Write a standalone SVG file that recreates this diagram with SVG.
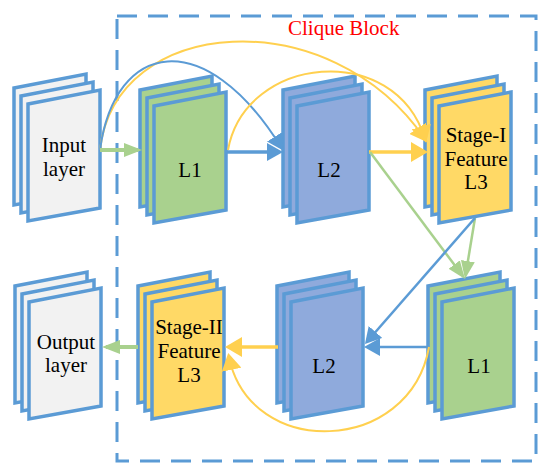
<svg xmlns="http://www.w3.org/2000/svg" xmlns:xlink="http://www.w3.org/1999/xlink" width="550" height="470" viewBox="0 0 550 470">
<style>
.sheet{stroke:#5b9bd5;stroke-width:3.5;stroke-linejoin:miter}
.gray{fill:#f2f2f2}.green{fill:#a9d18e}.blue{fill:#8faadc}.yellow{fill:#ffd966}
.lbl{font-family:"Liberation Serif","Times New Roman",serif;font-size:21px;fill:#000;text-anchor:middle}
.box{fill:none;stroke:#5b9bd5;stroke-width:3;stroke-dasharray:20 11}
.title{font-family:"Liberation Serif","Times New Roman",serif;font-size:21px;fill:#ff0000}
.cg{fill:none;stroke:#a9d18e}
.cb{fill:none;stroke:#5b9bd5}
.cy{fill:none;stroke:#ffd04f}
</style>
<defs>
<path id="sheet" d="M0,14 L72,0 L72,118 L0,131 Z"/>
<marker id="mg" markerUnits="userSpaceOnUse" markerWidth="18" markerHeight="14" refX="14" refY="7" orient="auto"><path d="M0,0 L18,7 L0,14 Z" fill="#a9d18e"/></marker>
<marker id="mb" markerUnits="userSpaceOnUse" markerWidth="16" markerHeight="18" refX="12" refY="9" orient="auto"><path d="M0,0 L16,9 L0,18 Z" fill="#5b9bd5"/></marker>
<marker id="my" markerUnits="userSpaceOnUse" markerWidth="17" markerHeight="20" refX="13" refY="10" orient="auto"><path d="M0,0 L17,10 L0,20 Z" fill="#ffd04f"/></marker>
</defs>

<g id="clique-block">
<rect class="box" x="117" y="16" width="419" height="445"/>
<text class="title" x="288" y="35">Clique Block</text>
</g>

<g id="input-layer">
<use href="#sheet" class="sheet gray" x="14" y="74"/>
<use href="#sheet" class="sheet gray" x="21" y="82"/>
<use href="#sheet" class="sheet gray" x="28" y="90"/>
<text class="lbl" x="64" y="152">Input</text>
<text class="lbl" x="64" y="176">layer</text>
</g>

<g id="l1-top">
<use href="#sheet" class="sheet green" x="140" y="76"/>
<use href="#sheet" class="sheet green" x="147" y="84"/>
<use href="#sheet" class="sheet green" x="154" y="92"/>
<text class="lbl" x="190" y="177">L1</text>
</g>

<g id="l2-top">
<use href="#sheet" class="sheet blue" x="283" y="76"/>
<use href="#sheet" class="sheet blue" x="290" y="84"/>
<use href="#sheet" class="sheet blue" x="297" y="92"/>
<text class="lbl" x="329" y="177">L2</text>
</g>

<g id="stage1-l3">
<use href="#sheet" class="sheet yellow" x="425" y="76"/>
<use href="#sheet" class="sheet yellow" x="432" y="84"/>
<use href="#sheet" class="sheet yellow" x="439" y="92"/>
<text class="lbl" x="476" y="142">Stage-I</text>
<text class="lbl" x="476" y="166">Feature</text>
<text class="lbl" x="476" y="189">L3</text>
</g>

<g id="output-layer">
<use href="#sheet" class="sheet gray" x="15" y="272"/>
<use href="#sheet" class="sheet gray" x="22" y="280"/>
<use href="#sheet" class="sheet gray" x="29" y="288"/>
<text class="lbl" x="66" y="349">Output</text>
<text class="lbl" x="66" y="372">layer</text>
</g>

<g id="stage2-l3">
<use href="#sheet" class="sheet yellow" x="138" y="272"/>
<use href="#sheet" class="sheet yellow" x="145" y="280"/>
<use href="#sheet" class="sheet yellow" x="152" y="288"/>
<text class="lbl" x="189" y="334">Stage-II</text>
<text class="lbl" x="189" y="358">Feature</text>
<text class="lbl" x="189" y="382">L3</text>
</g>

<g id="l2-bottom">
<use href="#sheet" class="sheet blue" x="277" y="272"/>
<use href="#sheet" class="sheet blue" x="284" y="280"/>
<use href="#sheet" class="sheet blue" x="291" y="288"/>
<text class="lbl" x="324" y="373">L2</text>
</g>

<g id="l1-bottom">
<use href="#sheet" class="sheet green" x="428" y="272"/>
<use href="#sheet" class="sheet green" x="435" y="280"/>
<use href="#sheet" class="sheet green" x="442" y="288"/>
<text class="lbl" x="479" y="373">L1</text>
</g>

<g id="connectors">
<path class="cy" stroke-width="2" d="M100,150 C115,15 330,0 425,139" marker-end="url(#my)"/>
<path class="cb" stroke-width="2" d="M100,150 C115,40 205,25 281,147" marker-end="url(#mb)"/>
<path class="cy" stroke-width="2" d="M228,150 C245,55 395,40 425,139" marker-end="url(#my)"/>
<path class="cg" stroke-width="4" d="M100,150 L138,150" marker-end="url(#mg)"/>
<path class="cb" stroke-width="3.5" d="M227,152 L279,152" marker-end="url(#mb)"/>
<path class="cy" stroke-width="3.5" d="M369,152 L424,152" marker-end="url(#my)"/>
<path class="cg" stroke-width="2.5" d="M370,152 L462.6,275.8" marker-end="url(#mg)"/>
<path class="cg" stroke-width="2.5" d="M475,218 L465.6,275" marker-end="url(#mg)"/>
<path class="cb" stroke-width="2.5" d="M475,218 L367.6,341" marker-end="url(#mb)"/>
<path class="cb" stroke-width="2.5" d="M429,347 L368,347" marker-end="url(#mb)"/>
<path class="cy" stroke-width="2" d="M429,347 C410,455 250,460 229,357" marker-end="url(#my)"/>
<path class="cy" stroke-width="3.5" d="M278,347 L229,347" marker-end="url(#my)"/>
<path class="cg" stroke-width="4" d="M138,347 L106,347" marker-end="url(#mg)"/>
</g>
</svg>
